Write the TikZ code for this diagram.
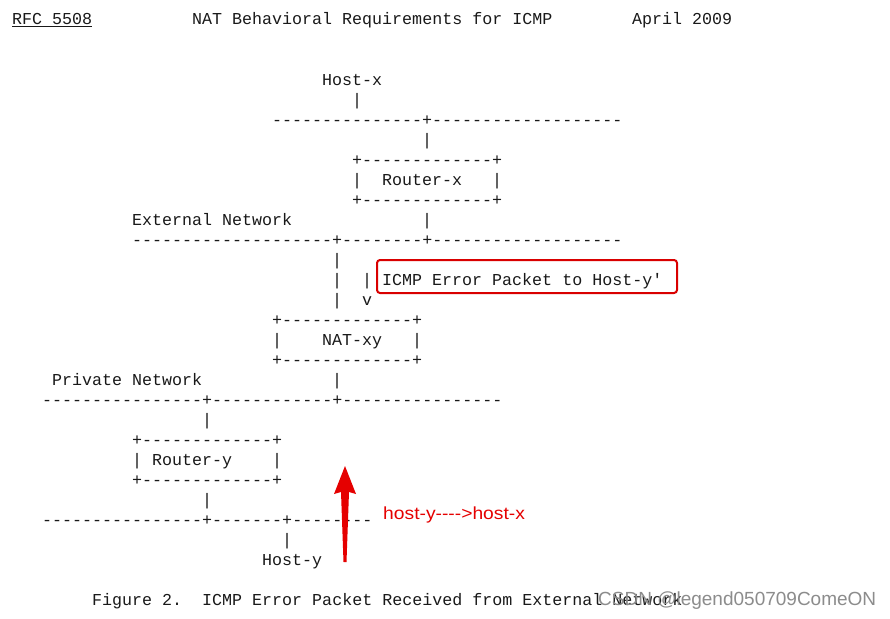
\documentclass[tikz,border=0pt]{standalone}
\usepackage{fontspec}
\setmonofont{Liberation Mono}
\newfontfamily\plainsans{Liberation Sans}
\begin{document}
\begin{tikzpicture}[x=1pt,y=-1pt,
  asc/.style={anchor=base west,inner sep=0pt,font=\ttfamily\fontsize{16.67}{20}\selectfont,text=black!90}]
\useasboundingbox (0,0) rectangle (890,618);
\fill[white] (0,0) rectangle (890,618);
\newcommand{\lnn}[4]{\node[asc] (#4) at ({12+#1*10},{#2+5}) {#3};}
\lnn{0}{20}{\underline{RFC 5508}}{h1}
\lnn{18}{20}{NAT Behavioral Requirements for ICMP}{h2}
\lnn{62}{20}{April 2009}{h3}
\lnn{31}{80}{Host-x}{l1}
\lnn{34}{100}{|}{l2}
\lnn{26}{120}{---------------+-------------------}{l3}
\lnn{41}{140}{|}{l4}
\lnn{34}{160}{+-------------+}{l5}
\lnn{34}{180}{|\ \ Router-x\ \ \ |}{l6}
\lnn{34}{200}{+-------------+}{l7}
\lnn{12}{220}{External Network}{l8a}
\lnn{41}{220}{|}{l8b}
\lnn{12}{240}{--------------------+--------+-------------------}{l9}
\lnn{32}{260}{|}{l10}
\lnn{32}{280}{|\ \ |\ ICMP Error Packet to Host-y'}{l11}
\lnn{32}{300}{|\ \ v}{l12}
\lnn{26}{320}{+-------------+}{l13}
\lnn{26}{340}{|\ \ \ \ NAT-xy\ \ \ |}{l14}
\lnn{26}{360}{+-------------+}{l15}
\lnn{4}{380}{Private Network}{l16a}
\lnn{32}{380}{|}{l16b}
\lnn{3}{400}{----------------+------------+----------------}{l17}
\lnn{19}{420}{|}{l18}
\lnn{12}{440}{+-------------+}{l19}
\lnn{12}{460}{|\ Router-y\ \ \ \ |}{l20}
\lnn{12}{480}{+-------------+}{l21}
\lnn{19}{500}{|}{l22}
\lnn{3}{520}{----------------+-------+--------}{l23}
\lnn{27}{540}{|}{l24}
\lnn{25}{560}{Host-y}{l25}
\lnn{8}{600}{Figure 2.\ \ ICMP Error Packet Received from External Network}{l26}
\draw[red!85!black,line width=2pt,rounded corners=3pt] (377,260) rectangle (677,293);
\fill[red!90!black] (345,466) -- (334,494) -- (341,492) -- (343.5,562) -- (346.5,562) -- (349,492) -- (356,494) -- cycle;
\node[anchor=base west,inner sep=0pt,text=red!90!black,font=\plainsans\fontsize{17.5}{20}\selectfont,xscale=1.1] (lbl) at (383,519) {host-y---->host-x};
\node[anchor=base west,inner sep=0pt,text=black!45,font=\plainsans\fontsize{19}{22}\selectfont] (wm) at (598,605) {CSDN @legend050709ComeON};
\end{tikzpicture}
\end{document}
